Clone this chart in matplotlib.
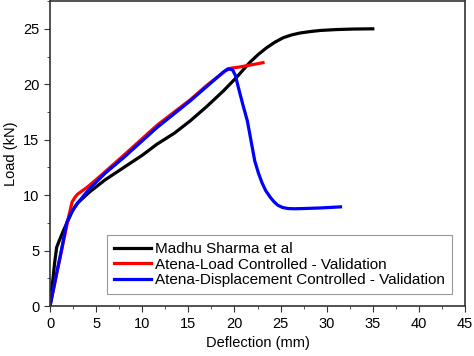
import matplotlib.pyplot as plt
from matplotlib.ticker import MultipleLocator

plt.rcParams['font.family'] = ['Liberation Sans', 'DejaVu Sans']

# Madhu Sharma et al (experimental)
exp_x = [0, 0.1, 0.3, 0.5, 0.72, 1.0, 1.5, 2.0, 2.5, 3.0, 4.3, 6.0, 8.0, 10.0, 11.6,
         13.5, 15.2, 17.0, 18.8, 20.2, 21.0, 21.7, 22.6, 23.5, 24.4, 25.3,
         26.2, 27.1, 28.2, 29.3, 31.0, 33.0, 35.0]
exp_y = [0, 1.2, 2.3, 3.9, 5.3, 5.9, 6.9, 7.8, 8.7, 9.3, 10.3, 11.4, 12.5, 13.6, 14.6,
         15.6, 16.7, 18.0, 19.4, 20.6, 21.35, 22.0, 22.7, 23.3, 23.8, 24.2,
         24.45, 24.62, 24.75, 24.85, 24.93, 24.98, 25.0]

# Atena - load controlled
load_x = [0, 0.5, 1.0, 1.5, 1.9, 2.2, 2.4, 2.7, 3.0, 4.0, 5.0, 8.0, 11.6, 15.2,
          17.0, 19.0, 19.6, 20.5, 21.5, 22.3, 23.1]
load_y = [0, 2.0, 4.0, 6.0, 7.6, 8.7, 9.4, 9.8, 10.1, 10.7, 11.4, 13.6, 16.3, 18.6,
          19.9, 21.2, 21.45, 21.55, 21.7, 21.82, 21.95]

# Atena - displacement controlled
disp_x = [0, 0.72, 1.2, 1.8, 2.2, 2.6, 3.0, 4.3, 6.0, 8.0, 11.6, 15.2, 17.0,
          18.8, 19.3, 19.8, 20.1, 20.4, 20.9, 21.4, 21.8, 22.2, 22.6, 23.0, 23.4,
          23.9, 24.3, 24.7, 25.2, 25.8, 26.5, 27.5, 29.3, 31.5]
disp_y = [0, 3.0, 4.9, 7.5, 8.3, 8.8, 9.3, 10.6, 12.0, 13.4, 16.1, 18.5, 19.8,
          21.1, 21.4, 21.3, 20.8, 19.8, 18.2, 16.7, 14.9, 13.1, 12.0, 11.1, 10.4,
          9.8, 9.4, 9.1, 8.9, 8.8, 8.78, 8.8, 8.85, 8.95]

fig = plt.figure(figsize=(4.74, 3.56), dpi=100)
ax = fig.add_axes([0.1055, 0.14, 0.8755, 0.857])

ax.plot(exp_x, exp_y, color='black', lw=2.3, label='Madhu Sharma et al')
ax.plot(load_x, load_y, color='#ff0000', lw=2.3, label='Atena-Load Controlled - Validation')
ax.plot(disp_x, disp_y, color='#0000ff', lw=2.3, label='Atena-Displacement Controlled - Validation')

ax.set_xlim(0, 45)
ax.set_ylim(0, 27.5)
ax.xaxis.set_major_locator(MultipleLocator(5))
ax.xaxis.set_minor_locator(MultipleLocator(2.5))
ax.yaxis.set_major_locator(MultipleLocator(5))
ax.yaxis.set_minor_locator(MultipleLocator(2.5))
ax.tick_params(which='both', direction='out', labelsize=10.5, color='#333333')
ax.tick_params(which='major', length=4)
ax.tick_params(which='minor', length=2.5)
for s in ax.spines.values():
    s.set_color('#333333')
    s.set_linewidth(1.2)

ax.set_xlabel('Deflection (mm)', fontsize=10.5)
ax.set_ylabel('Load (kN)', fontsize=10.5)

leg = ax.legend(loc='lower right', bbox_to_anchor=(0.969, 0.04), fontsize=11,
                fancybox=False, edgecolor='#999999', framealpha=1,
                handlelength=2.4, borderpad=0.45, labelspacing=0.1, handletextpad=0.3,
                borderaxespad=0)
leg.get_frame().set_linewidth(0.8)

fig.savefig('out.png', dpi=100)
